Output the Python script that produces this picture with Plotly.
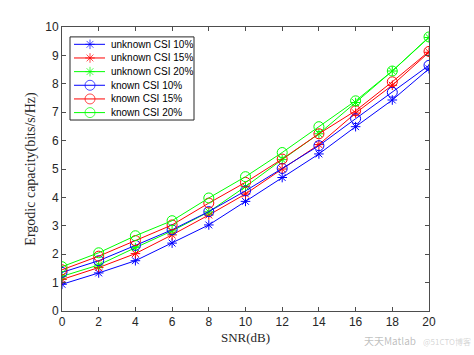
import plotly.graph_objects as go

snr = [0, 2, 4, 6, 8, 10, 12, 14, 16, 18, 20]

unknown_10 = [0.94, 1.34, 1.77, 2.39, 3.03, 3.86, 4.70, 5.53, 6.49, 7.43, 8.53]
unknown_15 = [1.11, 1.53, 2.02, 2.68, 3.38, 4.12, 5.00, 5.86, 6.97, 7.95, 9.11]
unknown_20 = [1.22, 1.62, 2.23, 2.82, 3.49, 4.38, 5.33, 6.24, 7.34, 8.45, 9.63]
known_10 = [1.36, 1.77, 2.31, 2.86, 3.50, 4.23, 5.02, 5.82, 6.77, 7.70, 8.65]
known_15 = [1.45, 1.93, 2.48, 3.03, 3.80, 4.53, 5.35, 6.24, 7.05, 8.07, 9.14]
known_20 = [1.56, 2.05, 2.65, 3.18, 3.98, 4.73, 5.58, 6.49, 7.40, 8.45, 9.65]

series_names = ["unknown CSI 10%", "unknown CSI 15%", "unknown CSI 20%",
                "known CSI 10%", "known CSI 15%", "known CSI 20%"]
series_values = [unknown_10, unknown_15, unknown_20, known_10, known_15, known_20]
series_colors = ["#0000FF", "#FF0000", "#00FF00", "#0000FF", "#FF0000", "#00FF00"]
series_symbols = ["asterisk-open"] * 3 + ["circle-open"] * 3

W, H = 474, 355
ML, MR, MT, MB = 62, 45, 27, 41
PW, PH = W - ML - MR, H - MT - MB

fig = go.Figure()
for name, ys, color, sym in zip(series_names, series_values, series_colors, series_symbols):
    msize = 8 if sym.startswith("asterisk") else 10
    fig.add_trace(go.Scatter(
        x=snr, y=ys, name=name, mode="lines+markers", showlegend=False,
        line=dict(color=color, width=1),
        marker=dict(symbol=sym, size=msize, color=color, line=dict(color=color, width=1)),
    ))

# custom compact legend (MATLAB style) on an overlay pixel axis
leg_x0, leg_x1, leg_y0, leg_y1 = 8, 132, 10, 94
row_y0, row_dy = 17.5, 13.8
fig.add_shape(type="rect", xref="x2", yref="y2", x0=leg_x0, x1=leg_x1, y0=leg_y0, y1=leg_y1,
              line=dict(color="#262626", width=1), fillcolor="white", layer="below")
for i, (name, color, sym) in enumerate(zip(series_names, series_colors, series_symbols)):
    ry = row_y0 + i * row_dy
    msize = 8 if sym.startswith("asterisk") else 10
    fig.add_trace(go.Scatter(
        x=[12, 28, 43], y=[ry, ry, ry], xaxis="x2", yaxis="y2", mode="lines+markers",
        showlegend=False, hoverinfo="skip",
        line=dict(color=color, width=1),
        marker=dict(symbol=sym, size=[0, msize, 0], color=color, line=dict(color=color, width=1)),
    ))
    fig.add_annotation(x=47, y=ry, xref="x2", yref="y2", xanchor="left", yanchor="middle",
                       text=name, showarrow=False,
                       font=dict(family="Liberation Sans, Arial", size=10, color="black"))

axis_common = dict(
    showgrid=False, zeroline=False, ticks="inside", ticklen=4,
    mirror="ticks", showline=True, linecolor="#4d4d4d", linewidth=1,
    tickcolor="#4d4d4d", tickfont=dict(family="Liberation Sans, Arial", size=12, color="#262626"),
)

fig.update_layout(
    width=W, height=H,
    margin=dict(l=ML, r=MR, t=MT, b=MB),
    paper_bgcolor="white", plot_bgcolor="white",
    xaxis=dict(range=[0, 20], tickvals=list(range(0, 21, 2)),
               title=dict(text="SNR(dB)", font=dict(family="Liberation Serif, Times New Roman", size=13, color="#262626"), standoff=4),
               **axis_common),
    yaxis=dict(range=[0, 10], tickvals=list(range(0, 11)),
               title=dict(text="Ergodic capacity(bits/s/Hz)", font=dict(family="Liberation Serif, Times New Roman", size=14, color="#262626"), standoff=6),
               **axis_common),
    xaxis2=dict(range=[0, PW], overlaying="x", visible=False, fixedrange=True),
    yaxis2=dict(range=[PH, 0], overlaying="y", visible=False, fixedrange=True),
    showlegend=False,
)

fig.add_annotation(x=(418 - ML) / PW, y=(MT + PH - 344) / PH, xref="paper", yref="paper",
                   xanchor="right", yanchor="middle", text="天天Matlab", showarrow=False,
                   font=dict(family="Noto Sans CJK SC", size=10, color="rgba(110,110,110,0.45)"))
fig.add_annotation(x=(421 - ML) / PW, y=(MT + PH - 345) / PH, xref="paper", yref="paper",
                   xanchor="left", yanchor="middle", text="@51CTO博客", showarrow=False,
                   font=dict(family="Noto Sans CJK SC", size=8, color="rgba(150,150,150,0.4)"))

fig.write_html("out.html", config={"displayModeBar": False},
               post_script="document.body.style.margin='0';document.body.style.overflow='hidden';")
